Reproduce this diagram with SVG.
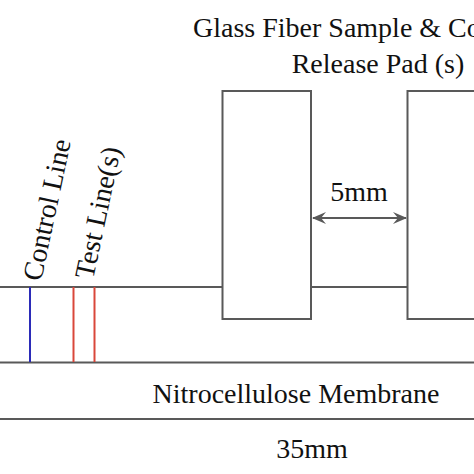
<svg xmlns="http://www.w3.org/2000/svg" width="474" height="474" viewBox="0 0 474 474">
<defs>
<style>
.ln{stroke:#595959;stroke-width:2;fill:none}
.box{stroke:#595959;stroke-width:2;fill:#fff}
.t{font-family:"Liberation Serif","Times New Roman",serif;font-size:28px;fill:#111}
</style>
<marker id="ah" viewBox="0 0 14 12" refX="13" refY="6" markerWidth="14" markerHeight="12" markerUnits="userSpaceOnUse" orient="auto-start-reverse">
<path d="M0,0 L14,6 L0,12 L5,6 Z" fill="#595959"/>
</marker>
</defs>
<rect width="474" height="474" fill="#fff"/>
<g id="strip">
<line class="ln" x1="0" y1="287" x2="222" y2="287"/>
<line class="ln" x1="311" y1="287" x2="407" y2="287"/>
</g>
<g id="pad1"><rect class="box" x="222.5" y="91" width="88.5" height="228"/></g>
<g id="pad2"><rect class="box" x="407.5" y="91" width="80" height="228"/></g>
<g id="membrane">
<line class="ln" x1="0" y1="362.5" x2="474" y2="362.5"/>
<line class="ln" x1="0" y1="419" x2="474" y2="419"/>
<text class="t" x="296" y="403" text-anchor="middle">Nitrocellulose Membrane</text>
</g>
<g id="control-line">
<line x1="30" y1="287" x2="30" y2="362" stroke="#2b2bb8" stroke-width="2"/>
<text class="t" transform="translate(41,282) rotate(-78)">Control Line</text>
</g>
<g id="test-lines">
<line x1="73.5" y1="287" x2="73.5" y2="362" stroke="#d9473a" stroke-width="2"/>
<line x1="94.5" y1="287" x2="94.5" y2="362" stroke="#d9473a" stroke-width="2"/>
<text class="t" transform="translate(93,280) rotate(-78)">Test Line(s)</text>
</g>
<g id="connectors">
<line class="ln" x1="313" y1="218" x2="406" y2="218" marker-start="url(#ah)" marker-end="url(#ah)"/>
</g>
<text class="t" x="359" y="201" text-anchor="middle">5mm</text>
<text class="t" x="193" y="37">Glass Fiber Sample &amp; Co</text>
<text class="t" x="378" y="73" text-anchor="middle">Release Pad (s)</text>
<text class="t" x="312" y="458" text-anchor="middle">35mm</text>
</svg>
